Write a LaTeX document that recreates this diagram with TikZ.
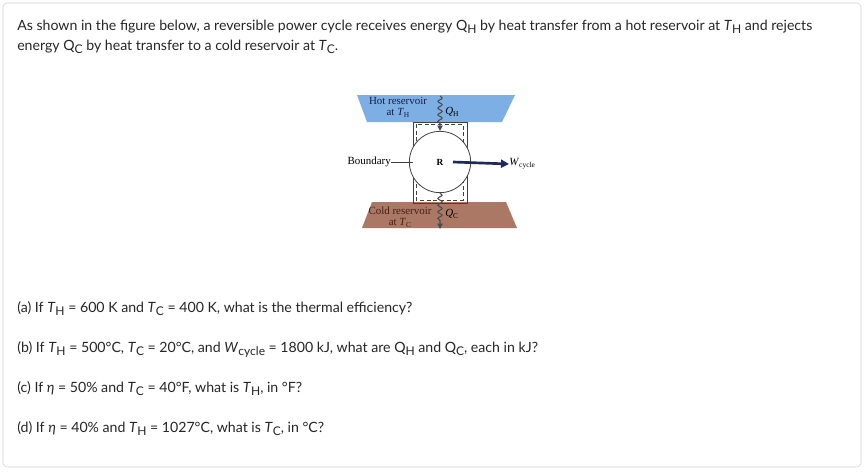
\documentclass[tikz,border=0pt]{standalone}
\usepackage{fontspec}
\setmainfont{Lato}
\newfontfamily\figfont{Liberation Serif}
\usetikzlibrary{decorations.pathmorphing,arrows.meta}
\newcommand\lsub[1]{\raisebox{-0.45ex}{\fontsize{9}{10}\selectfont #1}}
\newcommand\fsub[1]{\raisebox{-0.4ex}{\figfont\fontsize{5.6}{6}\selectfont #1}}
\begin{document}
\begin{tikzpicture}[x=0.75pt,y=-0.75pt,
  txt/.style={anchor=base west,inner sep=0,font=\fontsize{10.6}{12}\selectfont,text=black!85},
  fig/.style={inner sep=0,font=\figfont\fontsize{8.2}{8.4}\selectfont},
  wav/.style={draw=black!70,thick,decorate,decoration={snake,amplitude=1.6pt,segment length=5pt,pre length=0pt,post length=4pt},-{Triangle[length=4pt,width=4pt]}}]
\useasboundingbox (0,0) rectangle (866,471);
\fill[white] (0,0) rectangle (866,471);
\draw[black!18,rounded corners=3pt] (3,3) rectangle (861,467);
\node[txt] (l1) at (17,30) {As shown in the figure below, a reversible power cycle receives energy Q\lsub{H} by heat transfer from a hot reservoir at \textit{T}\lsub{H} and rejects};
\node[txt] (l2) at (17,50) {energy Q\lsub{C} by heat transfer to a cold reservoir at \textit{T}\lsub{C}.};
\node[txt] (qa) at (17,312) {(a) If \textit{T}\lsub{H} = 600 K and \textit{T}\lsub{C} = 400 K, what is the thermal efficiency?};
\node[txt] (qb) at (17,352) {(b) If \textit{T}\lsub{H} = 500°C, \textit{T}\lsub{C} = 20°C, and \textit{W}\lsub{cycle} = 1800 kJ, what are Q\lsub{H} and Q\lsub{C}, each in kJ?};
\node[txt] (qc) at (17,392) {(c) If \textit{η} = 50\% and \textit{T}\lsub{C} = 40°F, what is \textit{T}\lsub{H}, in °F?};
\node[txt] (qd) at (17,432) {(d) If \textit{η} = 40\% and \textit{T}\lsub{H} = 1027°C, what is \textit{T}\lsub{C}, in °C?};
% figure
\fill[fill={rgb,255:red,125;green,175;blue,228}] (357,95) -- (515,95) -- (502,122) -- (367,122) -- cycle;
\fill[fill={rgb,255:red,170;green,120;blue,100}] (372,202) -- (506,202) -- (517,228) -- (362,228) -- cycle;
\draw[black!75,semithick] (413,122) rectangle (467,203);
\draw[black!75,semithick,dashed,dash pattern=on 3pt off 2pt] (416,124) rectangle (463,200);
\node[draw=black!75,semithick,fill=white,circle,minimum size=46,inner sep=0,font=\figfont\fontsize{7}{7}\selectfont\bfseries] (R) at (440,162) {R};
\node[fig,text={rgb,255:red,20;green,30;blue,70},align=center] (hot) at (398,107) {Hot reservoir\\at \textit{T}\fsub{H}};
\node[fig,text={rgb,255:red,70;green,30;blue,20},align=center] (cold) at (400,217) {Cold reservoir\\at \textit{T}\fsub{C}};
\node[fig,anchor=east] (bd) at (391,162) {Boundary};
\draw[black!75] (bd.east) -- (413,162);
\coordinate (qht) at (440,96);
\coordinate (qct) at (440,229);
\draw[wav] (qht) -- (R.north);
\draw[wav] (R.south) -- (qct);
\node[fig,anchor=west] (qh) at (445,112) {\textit{Q}\fsub{H}};
\node[fig,anchor=west] (qc) at (445,214) {\textit{Q}\fsub{C}};
\coordinate (ws) at (453,162);
\node[fig,anchor=west] (w) at (509,164) {\textit{W}\fsub{cycle}};
\draw[line width=2pt,color={rgb,255:red,30;green,40;blue,90},-{Triangle[length=6pt,width=6pt]}] (ws) -- (w.west);
\end{tikzpicture}
\end{document}
